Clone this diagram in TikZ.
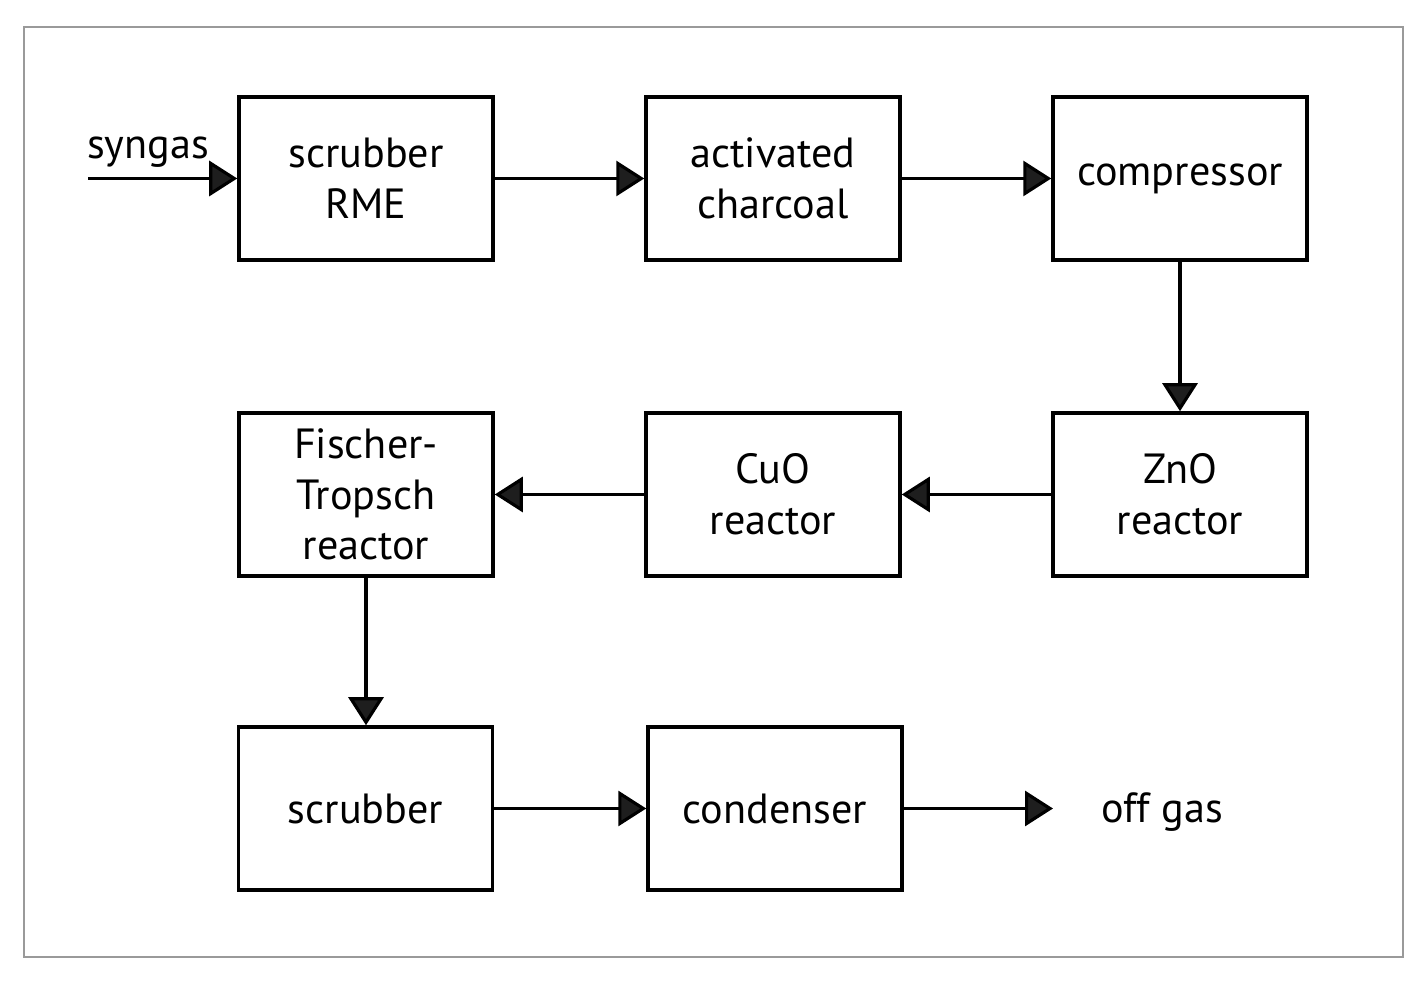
\documentclass[tikz,border=0pt]{standalone}
\usepackage{fontspec}
\setmainfont{PT Sans}
\usepackage{xcolor}
\usepackage{tikz}
\usetikzlibrary{arrows.meta, positioning}
\definecolor{moldura}{HTML}{9A9A9A}
\definecolor{ponta}{HTML}{1E1E1E}

\begin{document}
\begin{tikzpicture}[
    etapa/.style={draw, line width=1pt, minimum width=2.54cm, minimum height=1.63cm,
                  align=center, font=\fontsize{12}{14.4}\selectfont, inner sep=0pt},
    rotulo/.style={font=\fontsize{12}{14.4}\selectfont, inner sep=0pt},
    seta/.style={-{Triangle[length=2.8mm, width=3.5mm, fill=ponta]}, line width=0.9pt}
]
    \useasboundingbox (0,0) rectangle (14.18,9.85);
    \draw[moldura, line width=0.5pt] (0.24,0.28) rectangle (14.03,9.58);

    \node[etapa] (scrubrme) at (3.66,8.065) {scrubber\\RME};
    \node[etapa] (carvao) at (7.73,8.065) {activated\\charcoal};
    \node[etapa] (compressor) at (11.80,8.065) {compressor};

    \node[etapa] (ft) at (3.66,4.905) {Fischer-\\Tropsch\\reactor};
    \node[etapa] (cuo) at (7.73,4.905) {CuO\\reactor};
    \node[etapa] (zno) at (11.80,4.905) {ZnO\\reactor};

    \node[etapa] (scrubber) at (3.655,1.765) {scrubber};
    \node[etapa] (condensador) at (7.75,1.765) {condenser};

    \node[rotulo] (syngas) at (1.48,8.33) {syngas};
    \node[rotulo] (offgas) at (11.62,1.73) {off gas};
    \coordinate (entrada) at (0.88,8.065);
    \coordinate (saida) at (10.53,1.765);

    \draw[seta] (entrada) -- (scrubrme);
    \draw[seta] (scrubrme) -- (carvao);
    \draw[seta] (carvao) -- (compressor);
    \draw[seta] (compressor) -- (zno);
    \draw[seta] (zno) -- (cuo);
    \draw[seta] (cuo) -- (ft);
    \draw[seta] (ft.south) -- (ft.south |- scrubber.north);
    \draw[seta] (scrubber) -- (condensador);
    \draw[seta] (condensador) -- (saida);
\end{tikzpicture}
\end{document}
